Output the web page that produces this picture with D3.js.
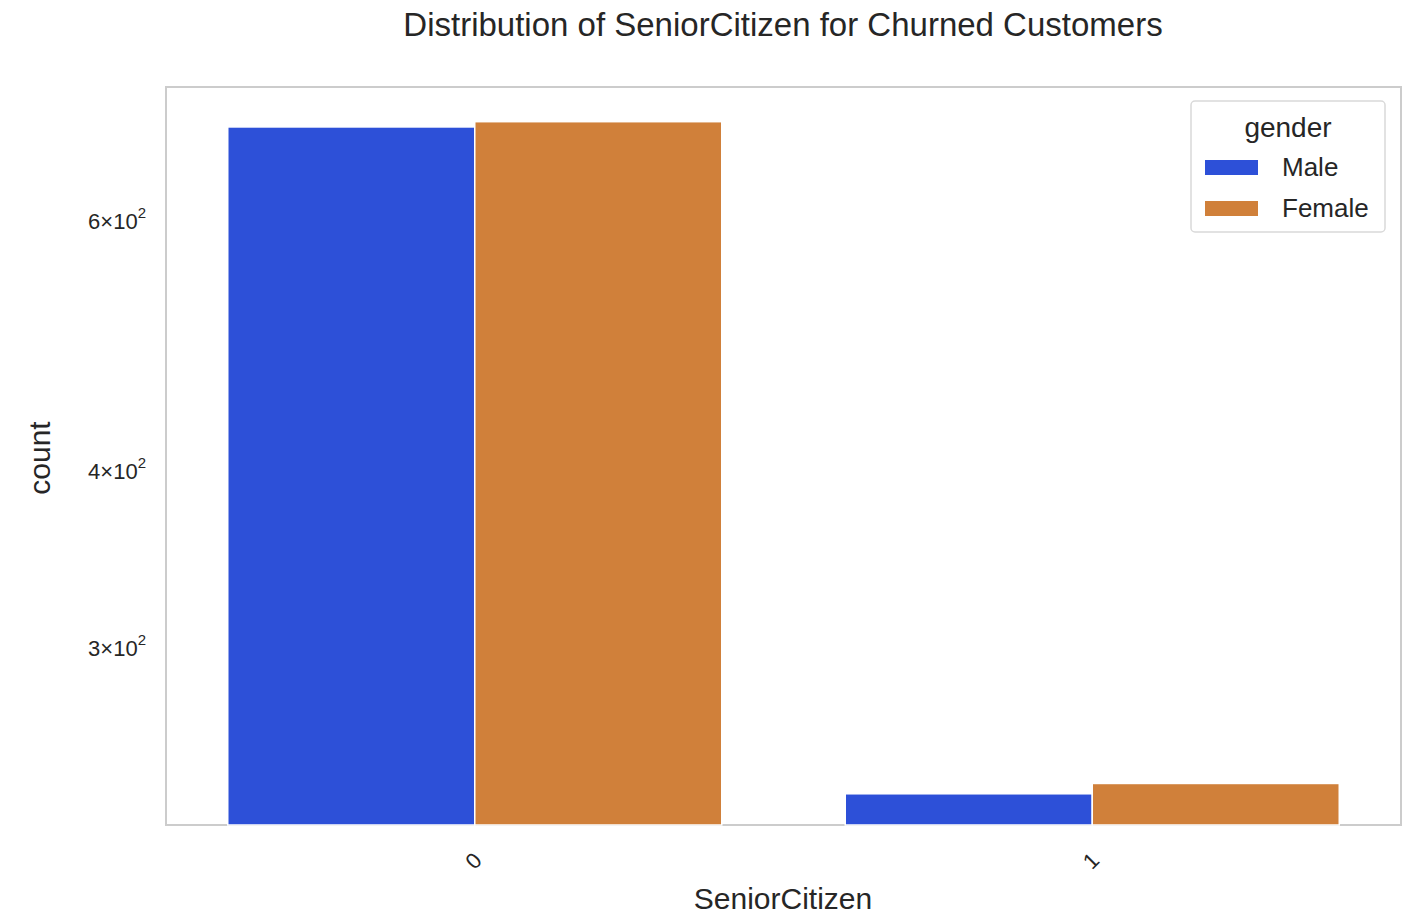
<!DOCTYPE html>
<html><head><meta charset="utf-8">
<script src="https://cdn.jsdelivr.net/npm/d3@7"></script>
<style>body{margin:0;background:#fff;font-family:"Liberation Sans",Arial,sans-serif}</style>
</head><body><svg id="c" width="1428" height="924"></svg>
<script>
const categories = ["0","1"];
const genders = ["Male","Female"];
const maleValues = [699, 237];
const femaleValues = [705, 241];
const tickValues = [300, 400, 600];
const tickMantissa = ["3","4","6"];
const colors = {Male:"#2d50d8", Female:"#d0803a"};

const svg = d3.select("#c");
const L=166,R=1401,T=87,B=825;
const x = d3.scaleBand().domain(categories).range([L,R]).paddingInner(0).paddingOuter(0);
const x1 = d3.scaleBand().domain(genders).range([0,x.bandwidth()*0.8]);
const y = d3.scaleLog().domain([225.3,745.8]).range([B,T]);

svg.append("rect").attr("x",L).attr("y",T).attr("width",R-L).attr("height",B-T)
  .attr("fill","none").attr("stroke","#cccccc").attr("stroke-width",2);

const data = categories.map((c,i)=>({c, Male:maleValues[i], Female:femaleValues[i]}));
data.forEach(d=>{
  genders.forEach(g=>{
    const x0 = x(d.c)+x.bandwidth()*0.1+x1(g);
    svg.append("rect").attr("x",x0).attr("y",y(d[g])).attr("width",x1.bandwidth())
      .attr("height",B-y(d[g])).attr("fill",colors[g]).attr("stroke","#fff").attr("stroke-width",1.5);
  });
});

tickValues.forEach((v,i)=>{
  const t = svg.append("text").attr("x",146).attr("y",y(v)+8).attr("text-anchor","end")
    .attr("font-size",22).attr("fill","#262626");
  t.append("tspan").text(tickMantissa[i]+"\u00d710");
  t.append("tspan").attr("font-size",15).attr("dy",-11).text("2");
});

categories.forEach(c=>{
  const cx = x(c)+x.bandwidth()/2;
  svg.append("text").attr("transform",`translate(${cx},862) rotate(-45)`)
    .attr("text-anchor","middle").attr("dominant-baseline","middle")
    .attr("font-size",22).attr("fill","#262626").text(c);
});

svg.append("text").attr("x",783).attr("y",36).attr("text-anchor","middle")
  .attr("font-size",33).attr("fill","#262626").text("Distribution of SeniorCitizen for Churned Customers");
svg.append("text").attr("x",783).attr("y",909).attr("text-anchor","middle")
  .attr("font-size",30).attr("fill","#262626").text("SeniorCitizen");
svg.append("text").attr("transform","translate(50,458) rotate(-90)").attr("text-anchor","middle")
  .attr("font-size",30).attr("fill","#262626").text("count");

const lg = svg.append("g");
lg.append("rect").attr("x",1191).attr("y",101).attr("width",194).attr("height",131).attr("rx",4)
  .attr("fill","#fff").attr("stroke","#d9d9d9").attr("stroke-width",1.5);
lg.append("text").attr("x",1288).attr("y",137).attr("text-anchor","middle")
  .attr("font-size",28).attr("fill","#262626").text("gender");
genders.forEach((g,i)=>{
  const yy = 167+i*41;
  lg.append("rect").attr("x",1205).attr("y",yy-7).attr("width",53).attr("height",15).attr("fill",colors[g]);
  lg.append("text").attr("x",1282).attr("y",yy+9).attr("font-size",26).attr("fill","#262626").text(g);
});
</script></body></html>
